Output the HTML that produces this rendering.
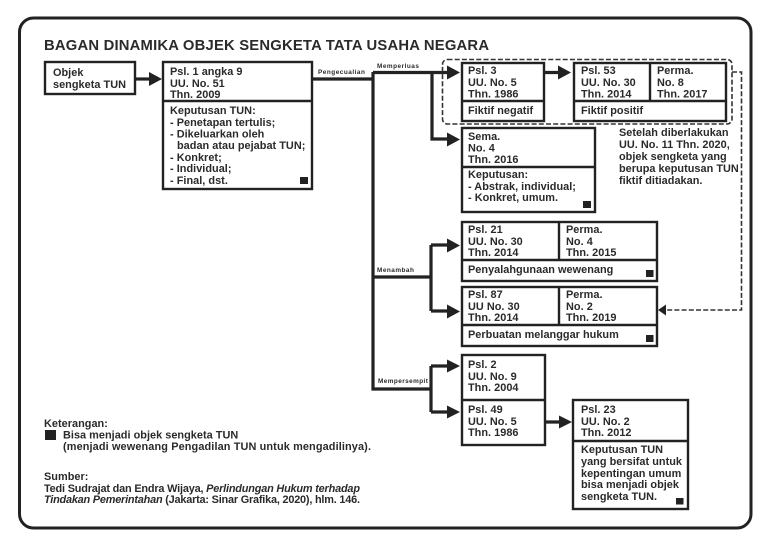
<!DOCTYPE html>
<html><head><meta charset="utf-8"><style>
html,body{margin:0;padding:0;background:#fff;width:768px;height:543px;overflow:hidden}
svg{display:block;filter:blur(.35px)}
text{font-family:"Liberation Sans",Arial,sans-serif;font-weight:bold;font-size:10.9px;letter-spacing:.03px;fill:#2a2a2a}
.s{font-size:6.4px;letter-spacing:.1px}
.b{fill:#fff;stroke:#222;stroke-width:2.4}
.l{fill:none;stroke:#222;stroke-width:2.4}
.c{fill:none;stroke:#222;stroke-width:3.2}
.d{fill:none;stroke:#333;stroke-width:1.6;stroke-dasharray:5 2.2}
.h{fill:#222}
</style></head><body>
<svg width="768" height="543" viewBox="0 0 768 543" xmlns="http://www.w3.org/2000/svg">
<rect x="19.5" y="18" width="731.5" height="510" rx="14" fill="#fff" stroke="#222" stroke-width="3"/>
<text x="44" y="50" style="font-size:14.8px;letter-spacing:0" textLength="445">BAGAN DINAMIKA OBJEK SENGKETA TATA USAHA NEGARA</text>

<!-- connectors -->
<path class="c" d="M135 79H150"/><path class="h" d="M149 72L162 79L149 86Z"/>
<path class="c" d="M312 79H373M373 72V389H431M373 277H431M431 245V311M431 245H448M431 311H448M431 366V412M431 366H448M431 412H448M373 72.500H448M432 72V139H448"/>
<path class="h" d="M447 65.500L460 72.500L447 79.500ZM447 132.500L460 139.500L447 146.500ZM447 238.500L460 245.500L447 252.500ZM447 304.500L460 311.500L447 318.500ZM447 359.500L460 366L447 372.500ZM447 405.500L460 412L447 418.500Z"/>
<path class="c" d="M544 72.500H560M545 422H560"/>
<path class="h" d="M558 65.500L571 72.500L558 79.500ZM559 415.500L572 422L559 428.500Z"/>

<!-- dashed -->
<rect class="d" x="442.500" y="59.500" width="289.500" height="64.500" rx="5"/>
<path class="d" d="M732 72H741.500V310H664"/>
<path class="h" d="M666 304.500L658 310L666 315.500Z"/>

<!-- boxes -->
<rect class="b" x="45" y="62" width="90" height="32"/>
<rect class="b" x="163" y="62" width="149" height="127"/><path class="l" d="M163 101H312"/>
<rect class="b" x="462" y="63" width="82" height="58"/><path class="l" d="M462 101H544"/>
<rect class="b" x="574" y="63" width="152" height="58"/><path class="l" d="M574 101H726M650 63V101"/>
<rect class="b" x="462" y="128" width="133" height="84"/><path class="l" d="M462 167H595"/>
<rect class="b" x="462" y="222" width="195" height="59"/><path class="l" d="M462 260H657M559 222V260"/>
<rect class="b" x="462" y="287" width="195" height="59"/><path class="l" d="M462 325H657M559 287V325"/>
<rect class="b" x="462" y="355" width="83" height="90"/><path class="l" d="M462 400H545"/>
<rect class="b" x="573" y="400" width="115" height="109"/><path class="l" d="M573 441H688"/>

<!-- squares -->
<path class="h" d="M300 177h8v7h-8zM583 201h8v7h-8zM646 270h7.500v7h-7.500zM646 335h7.500v7h-7.500zM676 498h7.500v6.500h-7.500zM45 430h11v10h-11z"/>

<!-- labels -->
<text class="s" x="318" y="74" textLength="47">Pengecualian</text>
<text class="s" x="377" y="68" textLength="42">Memperluas</text>
<text class="s" x="377" y="272" textLength="37">Menambah</text>
<text class="s" x="378" y="383" textLength="50">Mempersempit</text>

<text x="53" y="76">Objek</text><text x="53" y="88">sengketa TUN</text>

<text x="170" y="75">Psl. 1 angka 9</text><text x="170" y="87">UU. No. 51</text><text x="170" y="98">Thn. 2009</text>
<text x="170" y="114">Keputusan TUN:</text>
<text x="170" y="126">- Penetapan tertulis;</text>
<text x="170" y="137.500">- Dikeluarkan oleh</text>
<text x="177" y="149">badan atau pejabat TUN;</text>
<text x="170" y="161">- Konkret;</text>
<text x="170" y="172">- Individual;</text>
<text x="170" y="184">- Final, dst.</text>

<text x="468" y="74">Psl. 3</text><text x="468" y="86">UU. No. 5</text><text x="468" y="97.500">Thn. 1986</text><text x="468" y="114">Fiktif negatif</text>

<text x="581" y="74">Psl. 53</text><text x="581" y="86">UU. No. 30</text><text x="581" y="97.500">Thn. 2014</text>
<text x="657" y="74">Perma.</text><text x="657" y="86">No. 8</text><text x="657" y="97.500">Thn. 2017</text>
<text x="581" y="114">Fiktif positif</text>

<text x="468" y="140">Sema.</text><text x="468" y="151.500">No. 4</text><text x="468" y="163">Thn. 2016</text>
<text x="468" y="178">Keputusan:</text><text x="468" y="190">- Abstrak, individual;</text><text x="468" y="201">- Konkret, umum.</text>

<text x="619" y="136">Setelah diberlakukan</text>
<text x="619" y="148">UU. No. 11 Thn. 2020,</text>
<text x="619" y="160">objek sengketa yang</text>
<text x="619" y="172">berupa keputusan TUN</text>
<text x="619" y="184">fiktif ditiadakan.</text>

<text x="468" y="233">Psl. 21</text><text x="468" y="245">UU. No. 30</text><text x="468" y="256">Thn. 2014</text>
<text x="566" y="233">Perma.</text><text x="566" y="245">No. 4</text><text x="566" y="256">Thn. 2015</text>
<text x="468" y="273">Penyalahgunaan wewenang</text>

<text x="468" y="298">Psl. 87</text><text x="468" y="310">UU No. 30</text><text x="468" y="321">Thn. 2014</text>
<text x="566" y="298">Perma.</text><text x="566" y="310">No. 2</text><text x="566" y="321">Thn. 2019</text>
<text x="468" y="338">Perbuatan melanggar hukum</text>

<text x="468" y="368">Psl. 2</text><text x="468" y="380">UU. No. 9</text><text x="468" y="391">Thn. 2004</text>
<text x="468" y="413">Psl. 49</text><text x="468" y="425">UU. No. 5</text><text x="468" y="436">Thn. 1986</text>

<text x="581" y="413">Psl. 23</text><text x="581" y="425">UU. No. 2</text><text x="581" y="436">Thn. 2012</text>
<text x="581" y="453">Keputusan TUN</text>
<text x="581" y="465">yang bersifat untuk</text>
<text x="581" y="477">kepentingan umum</text>
<text x="581" y="488">bisa menjadi objek</text>
<text x="581" y="500">sengketa TUN.</text>

<text x="44" y="427">Keterangan:</text>
<text x="63" y="438.500">Bisa menjadi objek sengketa TUN</text>
<text x="63" y="450" textLength="308">(menjadi wewenang Pengadilan TUN untuk mengadilinya).</text>
<text x="44" y="480">Sumber:</text>
<text x="44" y="492" textLength="316">Tedi Sudrajat dan Endra Wijaya, <tspan font-style="italic">Perlindungan Hukum terhadap</tspan></text>
<text x="44" y="503" textLength="316"><tspan font-style="italic">Tindakan Pemerintahan</tspan> (Jakarta: Sinar Grafika, 2020), hlm. 146.</text>
</svg>
</body></html>
